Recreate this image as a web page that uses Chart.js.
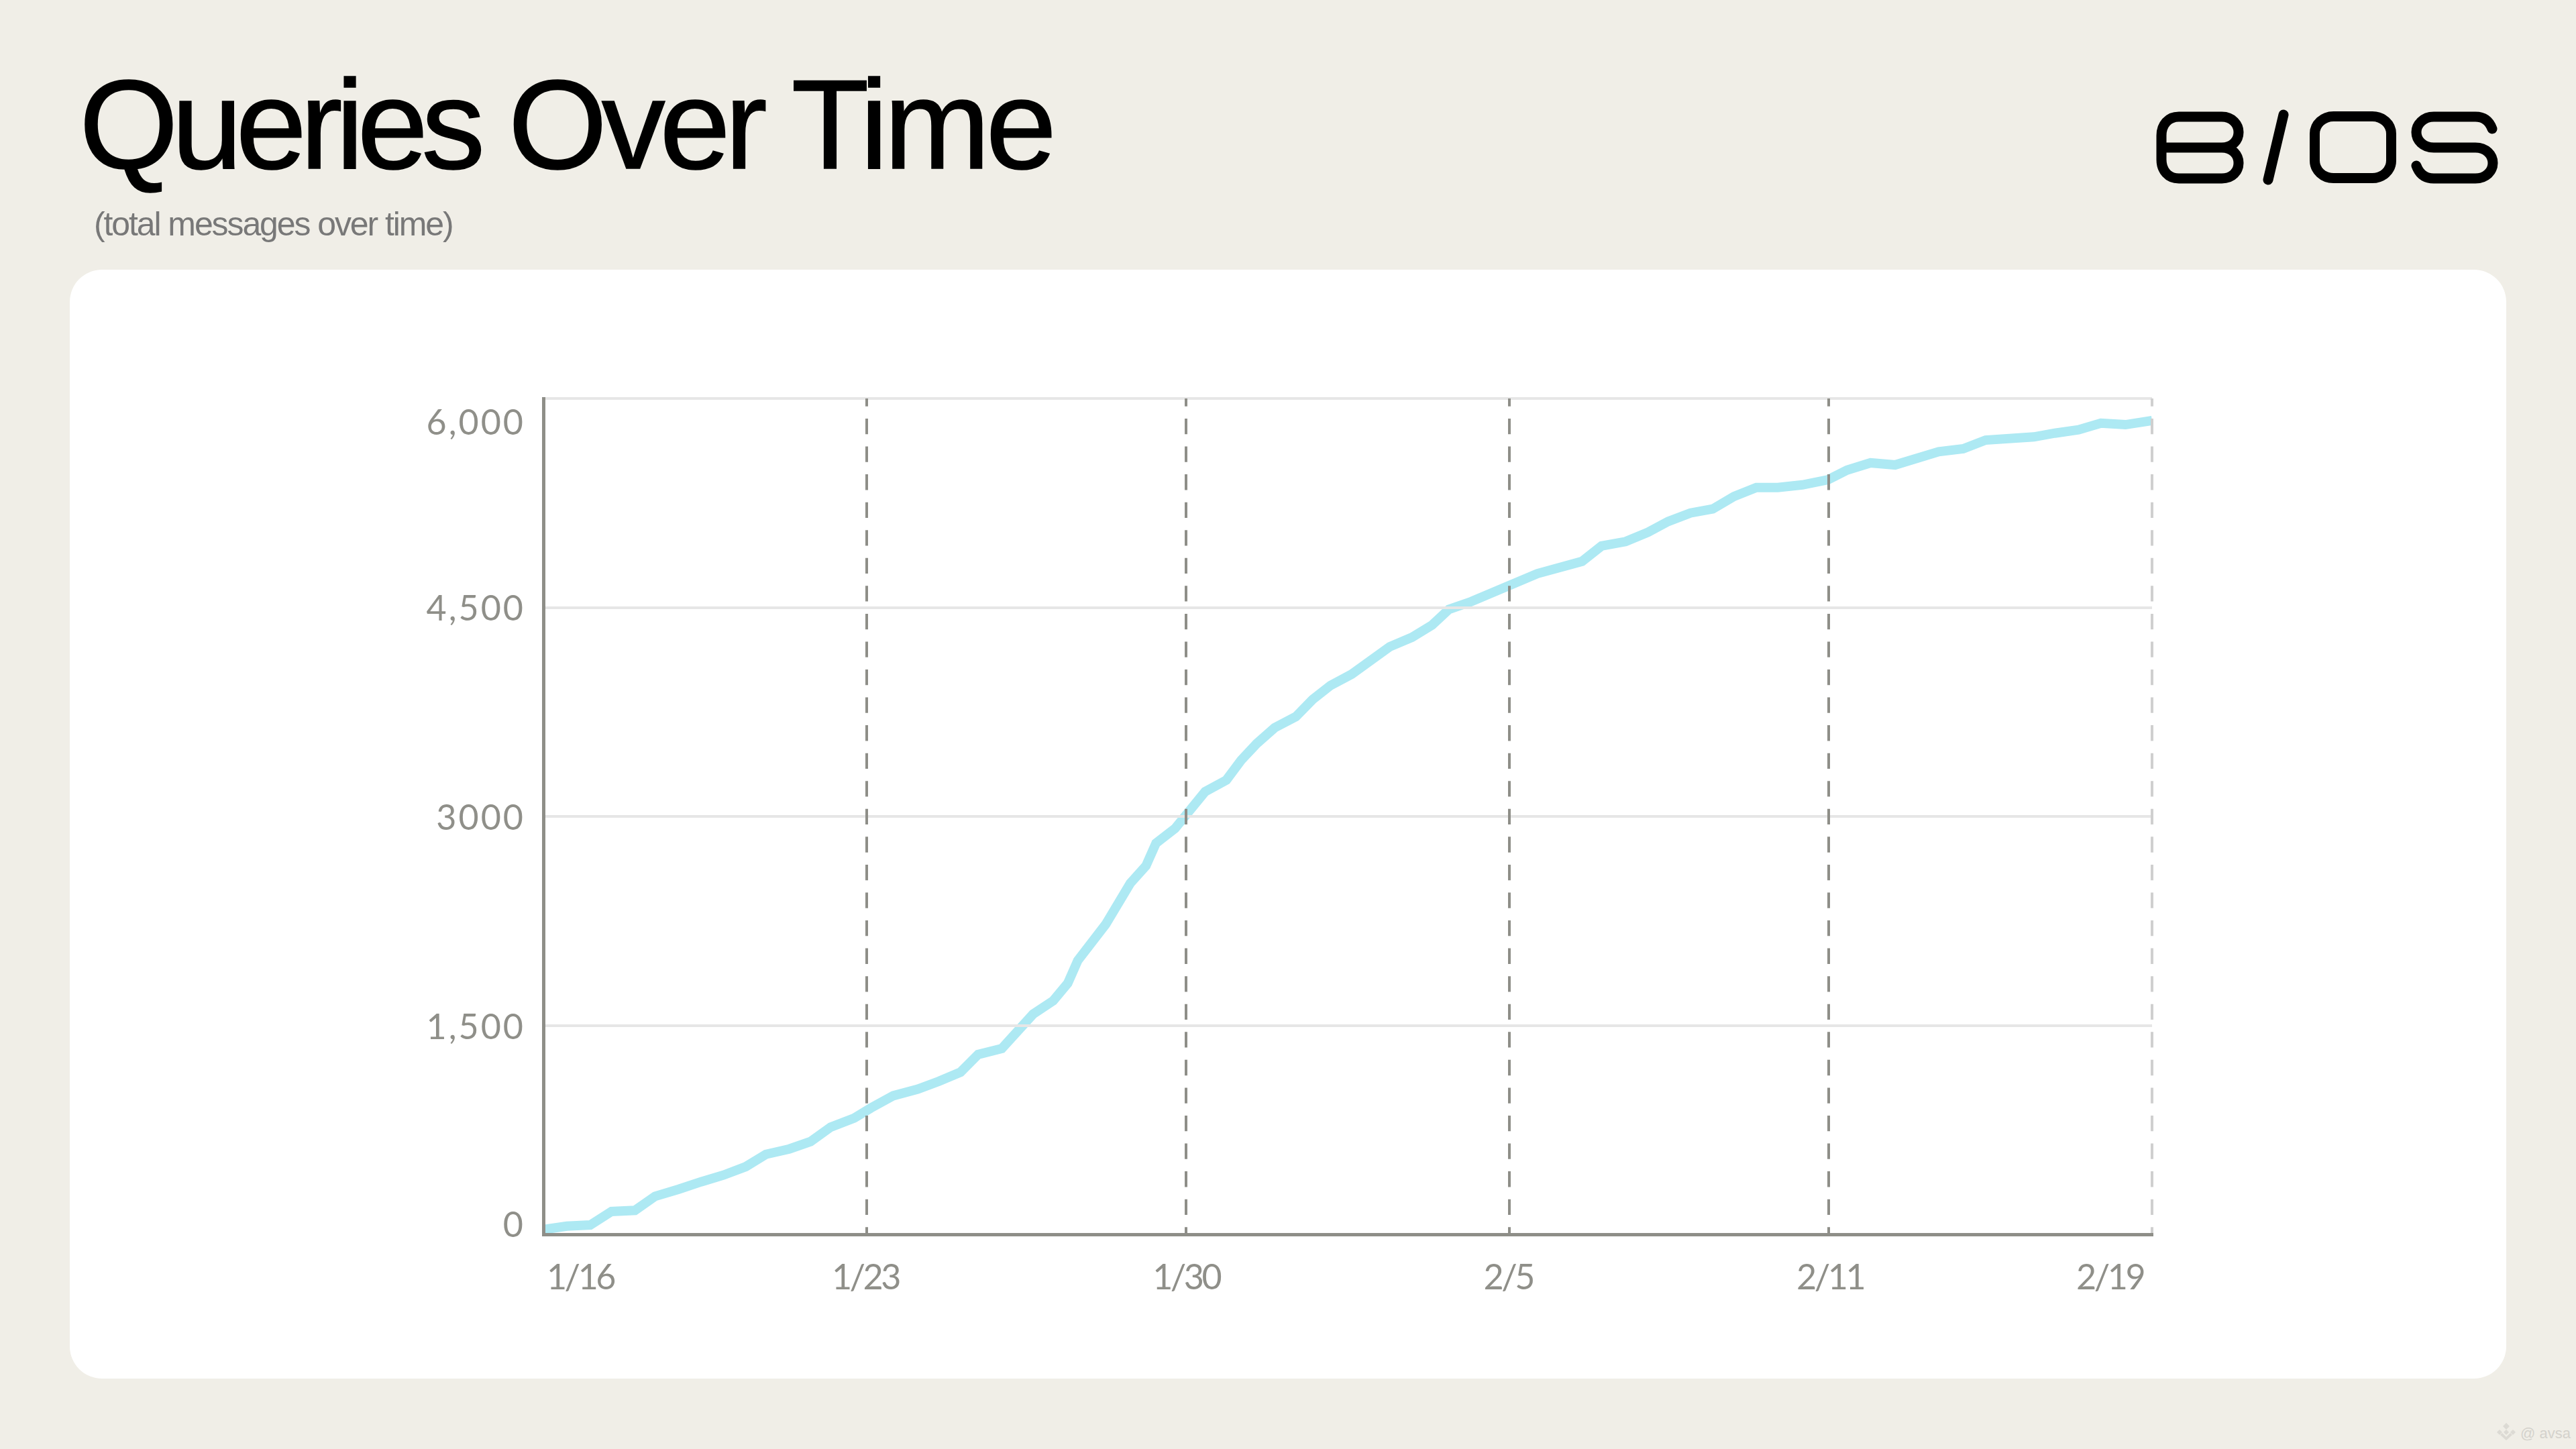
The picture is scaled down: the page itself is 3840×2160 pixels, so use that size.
<!DOCTYPE html>
<html>
<head>
<meta charset="utf-8">
<title>Queries Over Time</title>
<script src="https://cdn.jsdelivr.net/npm/chart.js@4"></script>
<style>
html,body{margin:0;padding:0;width:3840px;height:2160px;background:#f0eee7;overflow:hidden}
#card{position:absolute;left:104px;top:402px;width:3632px;height:1653px;background:#fff;border-radius:48px}
#chart{position:absolute;left:0;top:0}
#title{position:absolute;left:118px;top:70px;font:400 190px/230px "Liberation Sans",sans-serif;letter-spacing:-8.5px;color:#000;-webkit-text-stroke:1.5px #000;white-space:nowrap}
#title .a{letter-spacing:-10px}
#title .c{letter-spacing:-6.5px}
#sub{position:absolute;left:140px;top:303px;font:400 50px/62px "Liberation Sans",sans-serif;letter-spacing:-2.1px;color:#787878;white-space:nowrap}
#logo{position:absolute;left:0;top:0}
#mark{position:absolute;left:3757px;top:2122px;font:400 22px/30px "Liberation Sans",sans-serif;color:#d4d2cc;white-space:nowrap}
</style>
</head>
<body>
<div id="card"></div>
<div id="title"><span class="a">Queries</span> Over <span class="c">Time</span></div>
<div id="sub">(total messages over time)</div>
<svg id="logo" width="3840" height="2160" viewBox="0 0 3840 2160" fill="none" stroke="#000" stroke-width="15" stroke-linecap="round" stroke-linejoin="round">
  <title>B/OS</title>
  <path d="M3222 220V202C3222 186 3232 174 3248 174H3312C3328 174 3337 186 3337 197C3337 209 3328 220 3312 220H3222M3312 220C3328 220 3337 231 3337 243C3337 255 3328 266 3312 266H3248C3232 266 3222 254 3222 238V220"/>
  <path d="M3404 171L3381 268"/>
  <rect x="3450.5" y="173.5" width="114" height="92" rx="28" ry="26"/>
  <path d="M3715 192C3711 181 3703 174 3690 174H3628C3612 174 3602 186 3602 197C3602 209 3612 220 3628 220H3690C3706 220 3716 231 3716 243C3716 255 3706 266 3690 266H3628C3614 266 3606 258 3602 247"/>
  <g stroke="none" fill="#dcdad4"><path d="M3736 2121l5 5-5 5-5-5zM3726 2131l4 4-4 4-4-4zM3746 2131l4 4-4 4-4-4zM3736 2131l4 4-4 4-4-4zM3736 2147l-9-8 3-3 6 6 6-6 3 3z"/></g>
</svg>
<div id="mark">@ avsa</div>
<canvas id="chart" width="3840" height="2160"></canvas>
<script>
// Sample position along the period (sample index, first = 0)
const samplePositions = [0,1.05,2.1,3.05,4.1,5,6.06,7.06,8.06,9.06,9.96,11.01,11.96,12.86,13.91,14.66,15.66,16.76,17.71,18.67,19.46,20.52,21.92,22.82,23.47,23.92,25.17,26.27,26.97,27.42,28.27,29.62,30.57,31.23,31.93,32.73,33.68,34.43,35.23,36.18,37.88,38.88,39.78,40.53,41.53,44.49,46.49,47.36,48.44,49.44,50.34,51.34,52.34,53.29,54.29,55.25,56.35,57.5,58.35,59.4,60.5,62.45,63.55,64.55,66.71,67.65,68.71,69.71,70.81,72];
// Total messages at each sample
const totalMessages = [35,59,67,164,172,273,324,377,425,486,574,613,666,770,834,907,995,1042,1099,1164,1291,1334,1581,1677,1802,1966,2226,2520,2645,2808,2913,3178,3261,3403,3523,3636,3716,3839,3940,4021,4218,4286,4374,4486,4542,4743,4831,4941,4973,5040,5117,5178,5207,5297,5361,5361,5380,5417,5486,5538,5523,5618,5639,5701,5724,5751,5775,5823,5812,5842];
// Date ticks and where the dashed markers and date labels sit
const dateLabels = ['1/16','1/23','1/30','2/5','2/11','2/19'];
const dateMarkers = [0,14.47,28.77,43.24,57.53,72];
const dateLabelAt = [1.65,14.41,28.77,43.18,57.59,70.11];
// Value ticks and where their labels sit
const valueLabels = ['0','1,500','3000','4,500','6,000'];
const valueGrid = [0,1500,3000,4500,6000];
const valueLabelAt = [60,1482,2985,4485,5822];

const GREY = '#8e8e88', GRIDC = '#e6e6e6', LABELC = '#8f8f89';
const tickFont = {family:'Lato', size:52, weight:'400'};
const setTicks = arr => s => { s.ticks = arr.map(v => ({value:v})); };
const noSpace = s => { s.paddingLeft = s.paddingRight = s.paddingTop = s.paddingBottom = 0; };
// Value labels are drawn before the datasets, date labels after them
const labelSpacing = {id:'labelSpacing',
  beforeDraw(c){ c.ctx.letterSpacing='3px'; },
  afterDatasetsDraw(c){ c.ctx.letterSpacing='-3.5px'; }};

new Chart(document.getElementById('chart'), {
  type:'line',
  plugins:[labelSpacing],
  data:{datasets:[{
    data: samplePositions.map((x,i)=>({x, y: totalMessages[i]})),
    borderColor:'#ade9f3', borderWidth:14, pointRadius:0, tension:0,
    borderJoinStyle:'miter', borderCapStyle:'butt', fill:false
  }]},
  options:{
    responsive:false, animation:false, devicePixelRatio:1,
    layout:{padding:{left:510,right:632,top:594,bottom:200}},
    plugins:{legend:{display:false},tooltip:{enabled:false},title:{display:false}},
    scales:{
      x:{
        type:'linear', min:0, max:72, position:'bottom', weight:0,
        afterBuildTicks:setTicks(dateMarkers),
        afterFit:s=>{s.height=0;noSpace(s);},
        ticks:{display:false},
        border:{display:true,color:GREY,width:5,z:3,dash:[23.3,18.26],dashOffset:11.6},
        grid:{z:2,drawTicks:false,lineWidth:4,
          color:c=>c.index===0?'transparent':(c.index===dateMarkers.length-1?'#cfcfcf':GREY)}
      },
      xLabels:{
        type:'linear', axis:'x', min:0, max:72, position:'bottom', weight:1,
        afterBuildTicks:setTicks(dateLabelAt),
        afterFit:s=>{s.height=120;noSpace(s);},
        border:{display:false},
        grid:{display:false},
        ticks:{z:4,color:LABELC,font:tickFont,padding:26,autoSkip:false,maxRotation:0,
          callback:(v,i)=>dateLabels[i]}
      },
      y:{
        type:'linear', min:0, max:6000, position:'left', weight:0,
        afterBuildTicks:setTicks(valueGrid),
        afterFit:s=>{s.width=0;noSpace(s);},
        ticks:{display:false},
        border:{display:true,color:GREY,width:5,z:3},
        grid:{z:1,drawTicks:false,lineWidth:4,color:GRIDC}
      },
      yLabels:{
        type:'linear', axis:'y', min:0, max:6000, position:'left', weight:1,
        afterBuildTicks:setTicks(valueLabelAt),
        afterFit:s=>{s.width=300;noSpace(s);},
        border:{display:false},
        grid:{display:false},
        ticks:{z:0,color:LABELC,font:tickFont,padding:19,autoSkip:false,
          callback:(v,i)=>valueLabels[i]}
      }
    }
  }
});
</script>
</body>
</html>
